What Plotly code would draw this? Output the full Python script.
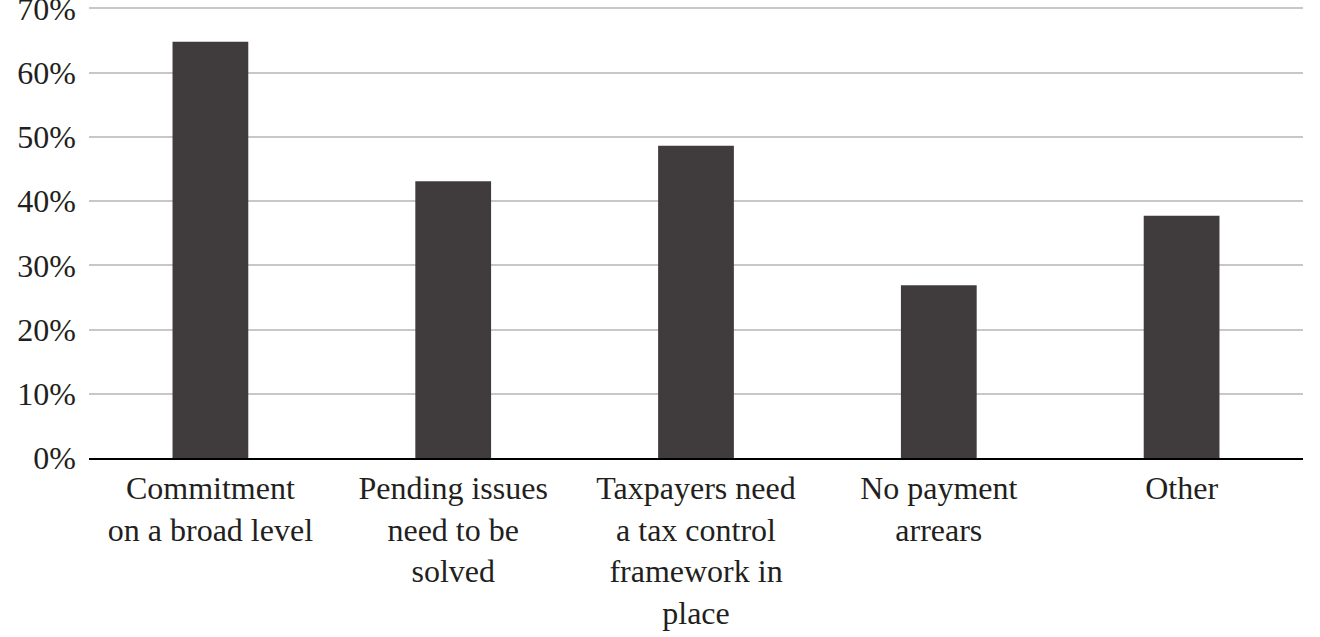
import plotly.graph_objects as go

categories = [
    "Commitment<br>on a broad level",
    "Pending issues<br>need to be<br>solved",
    "Taxpayers need<br>a tax control<br>framework in<br>place",
    "No payment<br>arrears",
    "Other",
]
values = [0.648, 0.431, 0.486, 0.269, 0.377]
y_ticks = [0, 0.1, 0.2, 0.3, 0.4, 0.5, 0.6, 0.7]
y_tick_labels = ["0%", "10%", "20%", "30%", "40%", "50%", "60%", "70%"]

fig = go.Figure(
    go.Bar(
        x=categories,
        y=values,
        marker=dict(color="#403c3d", line=dict(width=0)),
        hoverinfo="skip",
    )
)

font = dict(family="Liberation Serif, Times New Roman, serif", size=32, color="#231f20")

fig.update_layout(
    width=1320,
    height=637,
    margin=dict(l=89, r=17, t=2, b=179),
    paper_bgcolor="white",
    plot_bgcolor="white",
    bargap=0.688,
    showlegend=False,
    font=font,
)
fig.update_yaxes(
    range=[0, 0.71],
    tickvals=y_ticks,
    ticktext=y_tick_labels,
    showgrid=True,
    gridcolor="#c8c8c8",
    gridwidth=1.5,
    zeroline=False,
    showline=False,
    ticks="",
    ticklabelstandoff=12,
    ticklabeloverflow="allow",
    tickfont=font,
    automargin=False,
)
fig.update_xaxes(
    showline=True,
    linecolor="#000000",
    linewidth=1.5,
    ticks="",
    tickfont=font,
    tickangle=0,
    ticklabelstandoff=1,
    automargin=False,
)

fig.write_html(
    "out.html",
    config={"displayModeBar": False},
    post_script="document.body.style.margin='0';",
)
